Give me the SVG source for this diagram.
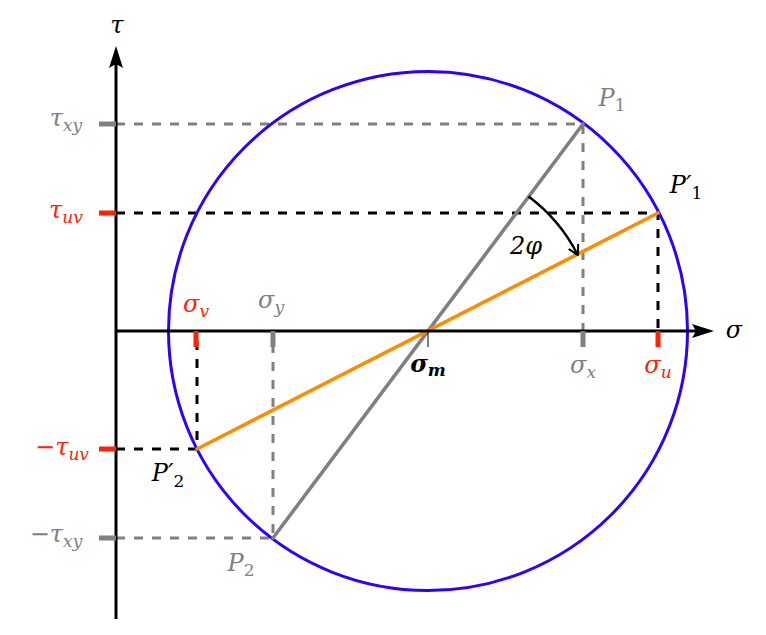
<svg xmlns="http://www.w3.org/2000/svg" width="766" height="635" viewBox="0 0 766 635">
<style>
text{font-family:"DejaVu Serif","Liberation Serif",serif;font-style:italic;font-size:24px;text-anchor:middle}
.g{fill:#808080}.r{fill:#ff2200}.k{fill:#000}
.sub{font-size:17px}
.num{font-size:17px;font-style:normal}
.dk{stroke:#000;stroke-width:3;stroke-dasharray:9 9;fill:none}
.dg{stroke:#808080;stroke-width:3;stroke-dasharray:9 9;fill:none}
.tr{stroke:#ff2200;stroke-width:5}
.tg{stroke:#808080;stroke-width:5}
</style>
<defs>
<marker id="ah" markerWidth="12" markerHeight="12" refX="9" refY="6" orient="auto" markerUnits="userSpaceOnUse">
<path d="M1,1 L10,6 L1,11" fill="none" stroke="#000" stroke-width="2" stroke-linecap="round" stroke-linejoin="round"/>
</marker>
</defs>
<g id="connectors">
<path class="dg" d="M116,124 H583 V331"/>
<path class="dk" d="M116,213 H658 V331"/>
<path class="dk" d="M116,449 H197 V331"/>
<path class="dg" d="M116,538 H273 V331"/>
<circle cx="428" cy="331" r="259.5" fill="none" stroke="#2f00ff" stroke-width="3"/>
<line x1="273" y1="538" x2="583" y2="124" stroke="#808080" stroke-width="3.6" stroke-linecap="round"/>
<line x1="197" y1="449" x2="658" y2="213" stroke="#ff8c00" stroke-width="3.6" stroke-linecap="round"/>
<line x1="116" y1="619" x2="116" y2="60" stroke="#000" stroke-width="3"/>
<polygon points="116,46 123,68 116,64 109,68" fill="#000"/>
<line x1="116" y1="331" x2="700" y2="331" stroke="#000" stroke-width="3"/>
<polygon points="714,331 692,338 696,331 692,324" fill="#000"/>
<line class="tg" x1="99" y1="124" x2="116" y2="124"/>
<line class="tr" x1="99" y1="213" x2="116" y2="213"/>
<line class="tr" x1="99" y1="449" x2="116" y2="449"/>
<line class="tg" x1="99" y1="538" x2="116" y2="538"/>
<line class="tr" x1="196" y1="331" x2="196" y2="347"/>
<line class="tg" x1="273" y1="331" x2="273" y2="347"/>
<line class="tg" x1="583" y1="331" x2="583" y2="347"/>
<line class="tr" x1="658" y1="331" x2="658" y2="347"/>
<line x1="428" y1="331" x2="428" y2="347" stroke="#000" stroke-width="1"/>
<path d="M528.6,196.5 A168,168 0 0 1 577.4,254.2" fill="none" stroke="#000" stroke-width="2.4" marker-end="url(#ah)"/>
</g>
<g id="labels">
<text x="117" y="33" class="k">τ</text>
<text x="734" y="338" class="k">σ</text>
<text x="612" y="106" class="g">P<tspan class="num" dy="5">1</tspan></text>
<text x="686" y="193" class="k">P′<tspan class="num" dy="6">1</tspan></text>
<text x="526" y="254" class="k" font-style="normal">2<tspan font-style="italic">φ</tspan></text>
<text x="428" y="372" class="k" font-weight="bold">σ<tspan class="sub" dy="4">m</tspan></text>
<text x="583" y="373" class="g">σ<tspan class="sub" dy="5">x</tspan></text>
<text x="658" y="373" class="r">σ<tspan class="sub" dy="5">u</tspan></text>
<text x="196" y="312" class="r">σ<tspan class="sub" dy="5">v</tspan></text>
<text x="271" y="308" class="g">σ<tspan class="sub" dy="5">y</tspan></text>
<text x="66" y="126" class="g">τ<tspan class="sub" dy="5">xy</tspan></text>
<text x="66" y="218" class="r">τ<tspan class="sub" dy="5">uv</tspan></text>
<text x="62" y="455" class="r"><tspan font-style="normal">−</tspan>τ<tspan class="sub" dy="5">uv</tspan></text>
<text x="56" y="542" class="g"><tspan font-style="normal">−</tspan>τ<tspan class="sub" dy="5">xy</tspan></text>
<text x="168" y="481" class="k">P′<tspan class="num" dy="6">2</tspan></text>
<text x="241" y="571" class="g">P<tspan class="num" dy="5">2</tspan></text>
</g>
</svg>
